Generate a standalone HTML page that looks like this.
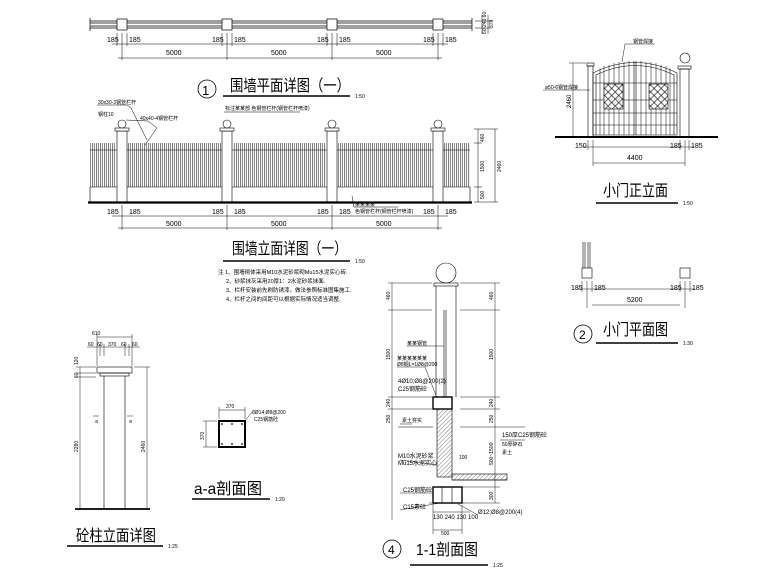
<!DOCTYPE html>
<html><head><meta charset="utf-8"><style>
html,body{margin:0;padding:0;background:#fff;}
svg{display:block;}
text{font-family:"Liberation Sans","Noto Sans CJK SC",sans-serif;fill:#000;}
.t{font-size:7px;}
.s{font-size:5px;}
.ti{font-size:16px;font-family:"Liberation Sans","WenQuanYi Zen Hei","Noto Sans CJK SC",sans-serif;}
</style></head><body>
<svg width="760" height="570" viewBox="0 0 760 570" xmlns="http://www.w3.org/2000/svg">
<defs>
<pattern id="pk" width="4" height="10" patternUnits="userSpaceOnUse">
<line x1="0.6" y1="0" x2="0.6" y2="10" stroke="#000" stroke-width="0.5"/>
<line x1="2.2" y1="0" x2="2.2" y2="10" stroke="#000" stroke-width="0.5"/>
</pattern>
<pattern id="hat" width="3" height="3" patternUnits="userSpaceOnUse" patternTransform="rotate(45)">
<line x1="0" y1="0" x2="0" y2="3" stroke="#000" stroke-width="0.5"/>
</pattern>
<pattern id="dia" width="5" height="5" patternUnits="userSpaceOnUse" patternTransform="rotate(45)">
<rect width="5" height="5" fill="none" stroke="#000" stroke-width="0.6"/>
</pattern>
</defs>
<g stroke="#000" fill="none" stroke-width="0.7">
<!-- PLAN -->
<line x1="90" y1="21" x2="472" y2="21"/><line x1="90" y1="23" x2="472" y2="23"/>
<line x1="90" y1="26" x2="472" y2="26"/><line x1="90" y1="28" x2="472" y2="28"/>
<line x1="90" y1="18" x2="90" y2="31"/><line x1="472" y1="18" x2="472" y2="31"/>
<g fill="#fff">
<rect x="117" y="19" width="10" height="11"/><rect x="222" y="19" width="10" height="11"/>
<rect x="327" y="19" width="10" height="11"/><rect x="433" y="19" width="10" height="11"/>
</g>
<g stroke-width="0.5">
<line x1="122" y1="33" x2="122" y2="60"/><line x1="227" y1="33" x2="227" y2="60"/><line x1="332" y1="33" x2="332" y2="60"/><line x1="438" y1="33" x2="438" y2="60"/>
<line x1="117" y1="33" x2="117" y2="46"/><line x1="127" y1="33" x2="127" y2="46"/>
<line x1="222" y1="33" x2="222" y2="46"/><line x1="232" y1="33" x2="232" y2="46"/>
<line x1="327" y1="33" x2="327" y2="46"/><line x1="337" y1="33" x2="337" y2="46"/>
<line x1="433" y1="33" x2="433" y2="46"/><line x1="443" y1="33" x2="443" y2="46"/>
<line x1="112" y1="44" x2="448" y2="44"/>
<line x1="118" y1="58" x2="442" y2="58"/>
<line x1="475" y1="21" x2="492" y2="21"/><line x1="475" y1="28" x2="492" y2="28"/>
<line x1="488" y1="15" x2="488" y2="34"/><line x1="482" y1="15" x2="482" y2="34"/>
</g>
</g>
<g class="t">
<text x="107" y="42">185</text><text x="129" y="42">185</text>
<text x="212" y="42">185</text><text x="234" y="42">185</text>
<text x="317" y="42">185</text><text x="339" y="42">185</text>
<text x="423" y="42">185</text><text x="445" y="42">185</text>
<text x="166" y="55">5000</text><text x="271" y="55">5000</text><text x="376" y="55">5000</text>
</g>
<text class="s" transform="translate(486,34) rotate(-90)">60 240 60</text>
<text class="s" transform="translate(493,28) rotate(-90)">370</text>
<circle cx="207" cy="89" r="9" fill="none" stroke="#000" stroke-width="0.8"/>
<text x="202" y="95" style="font-size:13px">1</text>
<text class="ti" x="230" y="91" textLength="120" lengthAdjust="spacingAndGlyphs">围墙平面详图（一）</text>
<line x1="223" y1="96" x2="350" y2="96" stroke="#000" stroke-width="1.6"/>
<text class="s" x="355" y="98">1:50</text>

<!-- ELEVATION -->
<g stroke="#000" fill="none" stroke-width="0.6">
<rect x="90" y="143" width="26" height="44" fill="url(#pk)" stroke="none"/>
<rect x="128" y="143" width="93" height="44" fill="url(#pk)" stroke="none"/>
<rect x="233" y="143" width="93" height="44" fill="url(#pk)" stroke="none"/>
<rect x="338" y="143" width="94" height="44" fill="url(#pk)" stroke="none"/>
<rect x="444" y="143" width="26" height="44" fill="url(#pk)" stroke="none"/>
<line x1="90" y1="150" x2="470" y2="150"/>
<line x1="90" y1="187" x2="470" y2="187"/>
<line x1="90" y1="187" x2="90" y2="202"/><line x1="470" y1="187" x2="470" y2="202"/>
<g fill="#fff">
<rect x="117" y="131" width="10" height="71"/><rect x="115" y="128" width="14" height="3"/><circle cx="122" cy="124" r="4"/>
<rect x="222" y="131" width="10" height="71"/><rect x="220" y="128" width="14" height="3"/><circle cx="227" cy="124" r="4"/>
<rect x="327" y="131" width="10" height="71"/><rect x="325" y="128" width="14" height="3"/><circle cx="332" cy="124" r="4"/>
<rect x="433" y="131" width="10" height="71"/><rect x="431" y="128" width="14" height="3"/><circle cx="438" cy="124" r="4"/>
</g>
<line x1="88" y1="202.5" x2="472" y2="202.5" stroke-width="2.2"/>
<g stroke-width="0.5">
<line x1="122" y1="205" x2="122" y2="230"/><line x1="227" y1="205" x2="227" y2="230"/><line x1="332" y1="205" x2="332" y2="230"/><line x1="438" y1="205" x2="438" y2="230"/>
<line x1="112" y1="216" x2="448" y2="216"/><line x1="118" y1="228" x2="442" y2="228"/>
<line x1="478" y1="129" x2="478" y2="202"/><line x1="495" y1="129" x2="495" y2="202"/>
<line x1="474" y1="129" x2="498" y2="129"/><line x1="474" y1="143" x2="482" y2="143"/><line x1="474" y1="187" x2="482" y2="187"/><line x1="474" y1="202" x2="498" y2="202"/>
<polyline points="97,105 127,105 131,108 147,140"/>
<polyline points="126,120 148,121 157,128 145,145"/>
<line x1="224" y1="112" x2="300" y2="112"/>
<polyline points="352,196 354,207 398,207"/>
</g>
</g>
<g class="s">
<text x="98" y="104">30x30-3钢管栏杆</text><text x="98" y="116">钢柱10</text>
<text x="140" y="120">40x40-4钢管栏杆</text>
<text x="225" y="110">标注某某部  色钢管栏杆(钢管栏杆喷漆)</text>
<text x="355" y="206">某某某某</text><text x="355" y="213">色钢管栏杆(钢管栏杆喷漆)</text>
</g>
<g class="t">
<text x="107" y="214">185</text><text x="129" y="214">185</text>
<text x="212" y="214">185</text><text x="234" y="214">185</text>
<text x="317" y="214">185</text><text x="339" y="214">185</text>
<text x="423" y="214">185</text><text x="445" y="214">185</text>
<text x="166" y="226">5000</text><text x="271" y="226">5000</text><text x="376" y="226">5000</text>
</g>
<g class="s">
<text transform="translate(484,142) rotate(-90)">460</text>
<text transform="translate(484,172) rotate(-90)">1500</text>
<text transform="translate(484,199) rotate(-90)">500</text>
<text transform="translate(501,172) rotate(-90)">2460</text>
</g>
<text class="ti" x="232" y="254" textLength="115" lengthAdjust="spacingAndGlyphs">围墙立面详图（一）</text>
<line x1="223" y1="261" x2="350" y2="261" stroke="#000" stroke-width="1.6"/>
<text class="s" x="355" y="263">1:50</text>
<g style="font-size:5.5px">
<text x="218" y="274">注 1、围墙砌体采用M10水泥砂浆砌Mu15水泥实心砖.</text>
<text x="226" y="283">2、砂浆抹灰采用20厚1：2水泥砂浆抹面.</text>
<text x="226" y="292">3、栏杆安装前先刷防锈漆，做法参照标准图集施工.</text>
<text x="226" y="301">4、栏杆之间的间距可以根据实际情况适当调整.</text>
</g>

<!-- CONCRETE COLUMN -->
<g stroke="#000" fill="none" stroke-width="0.6">
<rect x="97" y="367" width="35" height="6"/>
<rect x="100" y="373" width="29" height="3"/>
<line x1="104" y1="376" x2="104" y2="509"/><line x1="125" y1="376" x2="125" y2="509"/>
<line x1="75" y1="509" x2="150" y2="509" stroke-width="1.8"/>
<g stroke-width="0.45">
<line x1="97" y1="337" x2="132" y2="337"/><line x1="87" y1="347" x2="140" y2="347"/>
<line x1="97" y1="334" x2="97" y2="366"/><line x1="132" y1="334" x2="132" y2="366"/>
<line x1="100" y1="344" x2="100" y2="356"/><line x1="104" y1="344" x2="104" y2="356"/>
<line x1="125" y1="344" x2="125" y2="356"/><line x1="129" y1="344" x2="129" y2="356"/>
<line x1="80" y1="367" x2="80" y2="509"/><line x1="147" y1="367" x2="147" y2="509"/>
<line x1="76" y1="367" x2="96" y2="367"/><line x1="76" y1="373" x2="96" y2="373"/><line x1="76" y1="377" x2="96" y2="377"/>
<line x1="134" y1="367" x2="150" y2="367"/>
<line x1="93" y1="416" x2="99" y2="416"/><line x1="127" y1="416" x2="133" y2="416"/>
</g>
</g>
<g class="s">
<text x="92" y="335">610</text>
<text x="88" y="346">60</text><text x="97" y="346">60</text><text x="108" y="346">370</text><text x="121" y="346">60</text><text x="132" y="346">60</text>
<text transform="translate(78,365) rotate(-90)">120</text>
<text transform="translate(78,378) rotate(-90)">60</text>
<text transform="translate(78,452) rotate(-90)">2280</text>
<text transform="translate(145,452) rotate(-90)">2460</text>
<text transform="translate(98,423) rotate(-90)">a</text>
<text transform="translate(132,423) rotate(-90)">a</text>
</g>
<text class="ti" x="76" y="541" textLength="80" lengthAdjust="spacingAndGlyphs">砼柱立面详图</text>
<line x1="67" y1="546" x2="163" y2="546" stroke="#000" stroke-width="1.6"/>
<text class="s" x="168" y="548">1:25</text>

<!-- a-a SECTION -->
<g stroke="#000" fill="none">
<rect x="219" y="421" width="26" height="26" stroke-width="2"/>
<g stroke-width="0.45">
<line x1="219" y1="410" x2="245" y2="410"/><line x1="219" y1="407" x2="219" y2="419"/><line x1="245" y1="407" x2="245" y2="419"/>
<line x1="206" y1="421" x2="206" y2="447"/><line x1="203" y1="421" x2="217" y2="421"/><line x1="203" y1="447" x2="217" y2="447"/>
<line x1="244" y1="422" x2="252" y2="412"/>
</g>
</g>
<g fill="#000"><circle cx="222" cy="424" r="0.9"/><circle cx="242" cy="424" r="0.9"/><circle cx="222" cy="444" r="0.9"/><circle cx="242" cy="444" r="0.9"/><circle cx="232" cy="424" r="0.9"/><circle cx="232" cy="444" r="0.9"/></g>
<g class="s"><text x="226" y="408">370</text><text transform="translate(204,440) rotate(-90)">370</text>
<text x="252" y="414">8Ø14;Ø8@200</text><text x="254" y="421">C25钢筋砼</text></g>
<text class="ti" x="194" y="494" textLength="68" lengthAdjust="spacingAndGlyphs">a-a剖面图</text>
<line x1="192" y1="499" x2="270" y2="499" stroke="#000" stroke-width="1.6"/>
<text class="s" x="275" y="501">1:20</text>

<!-- 1-1 SECTION -->
<g stroke="#000" fill="none" stroke-width="0.6">
<circle cx="446" cy="273" r="10"/>
<rect x="434" y="283" width="24" height="3"/>
<line x1="436" y1="286" x2="436" y2="397"/><line x1="456" y1="286" x2="456" y2="397"/>
<line x1="444" y1="310" x2="444" y2="397"/><line x1="446" y1="310" x2="446" y2="397"/>
<rect x="433" y="397" width="19" height="12" stroke-width="1.4"/>
<rect x="437" y="409" width="15" height="68" fill="url(#hat)"/>
<rect x="452" y="474" width="55" height="6" fill="url(#hat)"/>
<line x1="452" y1="480" x2="507" y2="480"/>
<rect x="433" y="487" width="29" height="16" stroke-width="1.4"/>
<line x1="442" y1="487" x2="442" y2="503"/><line x1="452" y1="487" x2="452" y2="503"/>
<line x1="398" y1="427" x2="433" y2="427"/>
<line x1="429" y1="503" x2="466" y2="503"/>
<g stroke-width="0.45">
<line x1="392" y1="283" x2="392" y2="520"/><line x1="495" y1="283" x2="495" y2="503"/>
<line x1="388" y1="283" x2="432" y2="283"/><line x1="388" y1="310" x2="432" y2="310"/>
<line x1="388" y1="397" x2="432" y2="397"/><line x1="388" y1="409" x2="432" y2="409"/>
<line x1="460" y1="283" x2="500" y2="283"/><line x1="460" y1="310" x2="500" y2="310"/>
<line x1="460" y1="397" x2="500" y2="397"/><line x1="460" y1="409" x2="500" y2="409"/>
<line x1="460" y1="427" x2="500" y2="427"/><line x1="462" y1="487" x2="500" y2="487"/><line x1="466" y1="503" x2="500" y2="503"/>
<line x1="433" y1="512" x2="470" y2="512"/><line x1="433" y1="530" x2="462" y2="530"/>
<line x1="433" y1="505" x2="433" y2="534"/><line x1="462" y1="505" x2="462" y2="534"/>
<line x1="407" y1="346" x2="444" y2="346"/>
<polyline points="397,367 425,367 437,398"/>
<polyline points="400,424 412,424"/>
<line x1="400" y1="460" x2="437" y2="465"/>
<line x1="400" y1="493" x2="433" y2="493"/>
<line x1="400" y1="510" x2="440" y2="503"/>
<line x1="458" y1="504" x2="478" y2="515"/>
<line x1="500" y1="427" x2="525" y2="427"/><line x1="500" y1="440" x2="525" y2="440"/>
</g>
</g>
<g class="s">
<text x="407" y="345">某某钢管</text>
<text x="397" y="360">某某某某某某</text><text x="397" y="366">Ø8钢L=1Ø8@200</text>
<text x="398" y="383" style="font-size:6px">4Ø10;Ø8@200(2)</text>
<text x="398" y="391" style="font-size:6px">C25钢筋砼</text>
<text x="402" y="422">素土夯实</text>
<text x="398" y="458" style="font-size:6px">M10水泥砂浆</text><text x="398" y="465" style="font-size:6px">Mu15水泥实心</text>
<text x="459" y="459">100</text>
<text x="403" y="492" style="font-size:6px">C25钢筋砼</text>
<text x="403" y="509" style="font-size:6px">C15素砼</text>
<text x="478" y="514" style="font-size:6px">Ø12;Ø8@200(4)</text>
<text x="433" y="519" style="font-size:6px">130 240 130 100</text>
<text x="441" y="535">500</text>
<text x="502" y="437" style="font-size:6px">150厚C25钢筋砼</text>
<text x="502" y="446">50厚碎石</text><text x="502" y="454">素土</text>
<text transform="translate(390,300) rotate(-90)">460</text>
<text transform="translate(390,360) rotate(-90)">1500</text>
<text transform="translate(390,407) rotate(-90)">240</text>
<text transform="translate(390,423) rotate(-90)">250</text>
<text transform="translate(493,300) rotate(-90)">460</text>
<text transform="translate(493,360) rotate(-90)">1500</text>
<text transform="translate(493,407) rotate(-90)">240</text>
<text transform="translate(493,423) rotate(-90)">250</text>
<text transform="translate(493,465) rotate(-90)">500~1500</text>
<text transform="translate(493,500) rotate(-90)">300</text>
</g>
<circle cx="392" cy="549" r="9" fill="none" stroke="#000" stroke-width="0.8"/>
<text x="388" y="554" style="font-size:12px">4</text>
<text class="ti" x="416" y="555" textLength="62" lengthAdjust="spacingAndGlyphs">1-1剖面图</text>
<line x1="410" y1="565" x2="488" y2="565" stroke="#000" stroke-width="1.6"/>
<text class="s" x="493" y="567">1:25</text>

<!-- GATE ELEVATION -->
<g stroke="#000" fill="none" stroke-width="0.6">
<rect x="588" y="66" width="5" height="71"/><rect x="587" y="63" width="7" height="3"/>
<rect x="680" y="69" width="9" height="68"/><rect x="678" y="66" width="13" height="3"/><circle cx="685" cy="58" r="5"/>
<path d="M593,135 L593,73 Q635,52 677,73 L677,135 Z"/>
<path d="M596,135 L596,75 Q635,56 674,75 L674,135"/>
<line x1="634" y1="61" x2="634" y2="135"/><line x1="636" y1="61" x2="636" y2="135"/>
<line x1="593" y1="83" x2="677" y2="83"/><line x1="593" y1="100" x2="677" y2="100"/><line x1="593" y1="113" x2="677" y2="113"/><line x1="593" y1="125" x2="677" y2="125"/>
<g stroke-width="0.5">
<line x1="600" y1="68" x2="600" y2="135"/><line x1="604" y1="66" x2="604" y2="135"/><line x1="609" y1="65" x2="609" y2="135"/>
<line x1="614" y1="63" x2="614" y2="135"/><line x1="619" y1="62" x2="619" y2="135"/><line x1="624" y1="62" x2="624" y2="135"/><line x1="629" y1="61" x2="629" y2="135"/>
<line x1="641" y1="61" x2="641" y2="135"/><line x1="646" y1="62" x2="646" y2="135"/><line x1="651" y1="62" x2="651" y2="135"/><line x1="656" y1="63" x2="656" y2="135"/>
<line x1="661" y1="65" x2="661" y2="135"/><line x1="666" y1="66" x2="666" y2="135"/><line x1="670" y1="68" x2="670" y2="135"/>
</g>
<rect x="604" y="84" width="19" height="25" fill="#fff" stroke="none"/>
<rect x="604" y="84" width="19" height="25" fill="url(#dia)"/>
<rect x="649" y="84" width="19" height="25" fill="#fff" stroke="none"/>
<rect x="649" y="84" width="19" height="25" fill="url(#dia)"/>
<line x1="555" y1="137" x2="718" y2="137" stroke-width="2"/>
<g stroke-width="0.45">
<line x1="573" y1="63" x2="573" y2="137"/><line x1="569" y1="63" x2="586" y2="63"/>
<line x1="543" y1="90" x2="590" y2="90"/>
<line x1="625" y1="44" x2="655" y2="44"/><line x1="625" y1="44" x2="622" y2="62"/>
<line x1="588" y1="140" x2="588" y2="150"/><line x1="593" y1="140" x2="593" y2="166"/>
<line x1="680" y1="140" x2="680" y2="150"/><line x1="685" y1="140" x2="685" y2="166"/><line x1="689" y1="140" x2="689" y2="150"/>
<line x1="583" y1="147" x2="694" y2="147"/><line x1="593" y1="163" x2="685" y2="163"/>
</g>
</g>
<g class="s">
<text x="545" y="89">ø50-6钢管焊接</text><text x="633" y="43">钢管焊接</text>
<text transform="translate(571,108) rotate(-90)" style="font-size:6px">2460</text>
</g>
<g class="t"><text x="575" y="148">150</text><text x="670" y="148">185</text><text x="691" y="148">185</text><text x="627" y="160">4400</text></g>
<text class="ti" x="603" y="196" textLength="65" lengthAdjust="spacingAndGlyphs">小门正立面</text>
<line x1="596" y1="203" x2="678" y2="203" stroke="#000" stroke-width="1.6"/>
<text class="s" x="683" y="205">1:50</text>

<!-- GATE PLAN -->
<g stroke="#000" fill="none" stroke-width="0.6">
<rect x="582" y="268" width="10" height="10"/><rect x="680" y="268" width="10" height="10"/>
<line x1="583" y1="242" x2="583" y2="268"/><line x1="585" y1="242" x2="585" y2="268"/><line x1="588" y1="242" x2="588" y2="268"/><line x1="590" y1="242" x2="590" y2="268"/>
<g stroke-width="0.45">
<line x1="582" y1="281" x2="582" y2="292"/><line x1="587" y1="281" x2="587" y2="308"/><line x1="592" y1="281" x2="592" y2="292"/>
<line x1="680" y1="281" x2="680" y2="292"/><line x1="685" y1="281" x2="685" y2="308"/><line x1="690" y1="281" x2="690" y2="292"/>
<line x1="577" y1="289" x2="695" y2="289"/><line x1="592" y1="305" x2="680" y2="305"/>
</g>
</g>
<g class="t"><text x="571" y="290">185</text><text x="594" y="290">185</text><text x="670" y="290">185</text><text x="692" y="290">185</text><text x="627" y="302">5200</text></g>
<circle cx="583" cy="334" r="9" fill="none" stroke="#000" stroke-width="0.8"/>
<text x="579" y="339" style="font-size:12px">2</text>
<text class="ti" x="603" y="335" textLength="65" lengthAdjust="spacingAndGlyphs">小门平面图</text>
<line x1="596" y1="343" x2="678" y2="343" stroke="#000" stroke-width="1.6"/>
<text class="s" x="683" y="345">1:30</text>
</svg>
</body></html>
